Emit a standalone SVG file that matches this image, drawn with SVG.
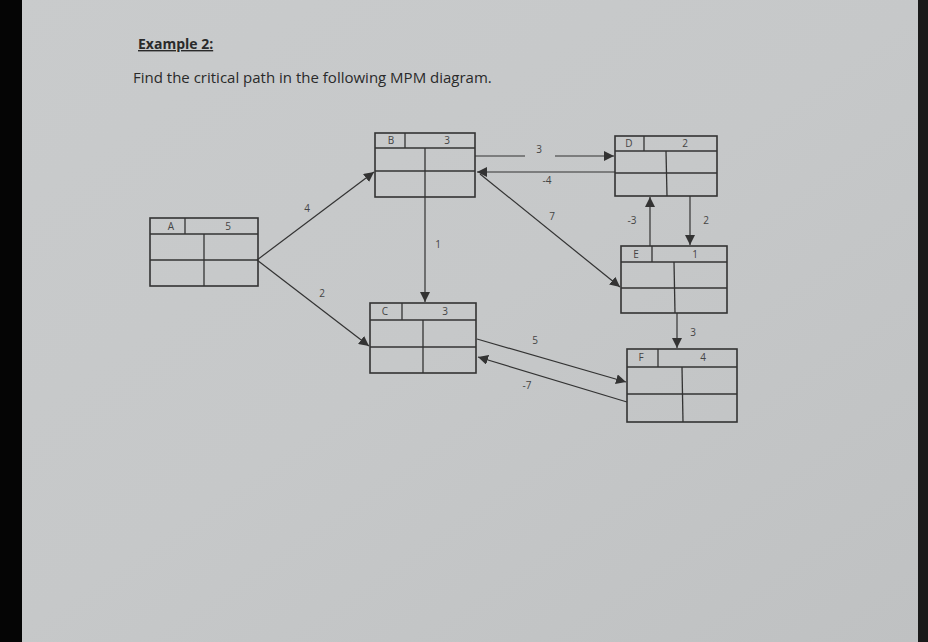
<svg xmlns="http://www.w3.org/2000/svg" width="928" height="642" viewBox="0 0 928 642">
<defs>
<linearGradient id="paper" x1="0" y1="0" x2="1" y2="1">
<stop offset="0" stop-color="#c9cbcc"/>
<stop offset="0.5" stop-color="#c6c8c9"/>
<stop offset="1" stop-color="#bfc1c2"/>
</linearGradient>
<marker id="ah" viewBox="0 0 10 10" refX="10" refY="5" markerWidth="10" markerHeight="10" markerUnits="userSpaceOnUse" orient="auto">
<path d="M0,0 L10,5 L0,10 z" fill="#333"/>
</marker>
<style>
.box{fill:none;stroke:#333;stroke-width:1.6}
.ln{fill:none;stroke:#333;stroke-width:1.3}
.c{stroke:#333;stroke-width:1.2;fill:none}
.t{font-family:"Open Sans","Liberation Sans",sans-serif;font-size:10px;fill:#444;text-anchor:middle}
.h{font-family:"Open Sans","Liberation Sans",sans-serif;fill:#2a2a2a}
</style>
</defs>
<rect width="928" height="642" fill="url(#paper)"/>
<rect x="0" y="0" width="22" height="642" fill="#050505"/>
<rect x="918" y="0" width="10" height="642" fill="#1a1a1a"/>
<text class="h" x="138" y="49" font-size="14" font-weight="bold" text-decoration="underline">Example 2:</text>
<text class="h" x="133" y="83" font-size="15">Find the critical path in the following MPM diagram.</text>

<g id="connectors">
<line class="c" x1="257" y1="260" x2="374" y2="172" marker-end="url(#ah)"/>
<line class="c" x1="257" y1="260" x2="369" y2="346" marker-end="url(#ah)"/>
<line class="c" x1="425" y1="197" x2="425" y2="302" marker-end="url(#ah)"/>
<line class="c" x1="475" y1="156" x2="525" y2="156"/>
<line class="c" x1="555" y1="156" x2="614" y2="156" marker-end="url(#ah)"/>
<line class="c" x1="615" y1="172" x2="477" y2="172" marker-end="url(#ah)"/>
<line class="c" x1="480" y1="174" x2="620" y2="287" marker-end="url(#ah)"/>
<line class="c" x1="650" y1="246" x2="650" y2="197" marker-end="url(#ah)"/>
<line class="c" x1="690" y1="196" x2="690" y2="245" marker-end="url(#ah)"/>
<line class="c" x1="677" y1="313" x2="677" y2="348" marker-end="url(#ah)"/>
<line class="c" x1="477" y1="339" x2="626" y2="382" marker-end="url(#ah)"/>
<line class="c" x1="627" y1="402" x2="478" y2="357" marker-end="url(#ah)"/>
<text class="t" x="307" y="212">4</text>
<text class="t" x="322" y="297">2</text>
<text class="t" x="438" y="248">1</text>
<text class="t" x="539" y="153">3</text>
<text class="t" x="547" y="184">-4</text>
<text class="t" x="552" y="220">7</text>
<text class="t" x="632" y="224">-3</text>
<text class="t" x="706" y="224">2</text>
<text class="t" x="693" y="336">3</text>
<text class="t" x="535" y="344">5</text>
<text class="t" x="527" y="389">-7</text>
</g>

<g id="A">
<rect class="box" x="150" y="218" width="108" height="68"/>
<line class="ln" x1="150" y1="234" x2="258" y2="234"/>
<line class="ln" x1="185" y1="218" x2="185" y2="234"/>
<line class="ln" x1="150" y1="260" x2="258" y2="260"/>
<line class="ln" x1="204" y1="234" x2="204" y2="286"/>
<text class="t" x="171" y="230">A</text>
<text class="t" x="228" y="230">5</text>
</g>
<g id="B">
<rect class="box" x="375" y="133" width="100" height="64"/>
<line class="ln" x1="375" y1="148" x2="475" y2="148"/>
<line class="ln" x1="405" y1="133" x2="405" y2="148"/>
<line class="ln" x1="375" y1="171" x2="475" y2="171"/>
<line class="ln" x1="425" y1="148" x2="425" y2="197"/>
<text class="t" x="391" y="144">B</text>
<text class="t" x="447" y="144">3</text>
</g>
<g id="D">
<rect class="box" x="615" y="136" width="102" height="60"/>
<line class="ln" x1="615" y1="151" x2="717" y2="151"/>
<line class="ln" x1="644" y1="136" x2="644" y2="151"/>
<line class="ln" x1="615" y1="173" x2="717" y2="173"/>
<line class="ln" x1="666" y1="151" x2="667" y2="196"/>
<text class="t" x="629" y="147">D</text>
<text class="t" x="685" y="147">2</text>
</g>
<g id="E">
<rect class="box" x="621" y="246" width="106" height="67"/>
<line class="ln" x1="621" y1="262" x2="727" y2="262"/>
<line class="ln" x1="652" y1="246" x2="652" y2="262"/>
<line class="ln" x1="621" y1="288" x2="727" y2="288"/>
<line class="ln" x1="674" y1="262" x2="675" y2="313"/>
<text class="t" x="636" y="258">E</text>
<text class="t" x="695" y="258">1</text>
</g>
<g id="C">
<rect class="box" x="370" y="303" width="106" height="70"/>
<line class="ln" x1="370" y1="320" x2="476" y2="320"/>
<line class="ln" x1="402" y1="303" x2="402" y2="320"/>
<line class="ln" x1="370" y1="347" x2="476" y2="347"/>
<line class="ln" x1="423" y1="320" x2="423" y2="373"/>
<text class="t" x="385" y="315">C</text>
<text class="t" x="445" y="315">3</text>
</g>
<g id="F">
<rect class="box" x="627" y="349" width="110" height="73"/>
<line class="ln" x1="627" y1="367" x2="737" y2="367"/>
<line class="ln" x1="658" y1="349" x2="658" y2="367"/>
<line class="ln" x1="627" y1="394" x2="737" y2="394"/>
<line class="ln" x1="682" y1="367" x2="683" y2="422"/>
<text class="t" x="641" y="361">F</text>
<text class="t" x="703" y="361">4</text>
</g>
</svg>
